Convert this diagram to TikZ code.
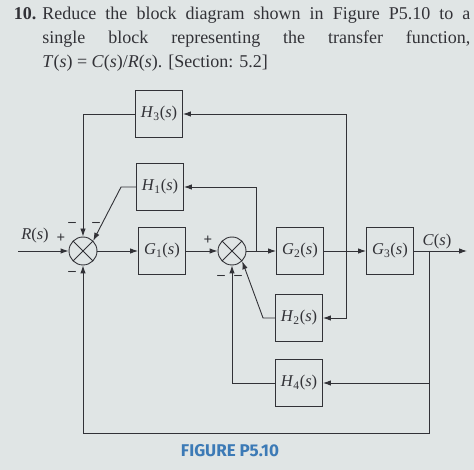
\documentclass[tikz,border=0pt]{standalone}
\usepackage{fontspec}
\setmainfont{Liberation Serif}
\newfontfamily\capfont{Fira Sans}
\usetikzlibrary{arrows.meta}

\definecolor{paper}{RGB}{224,229,229}
\definecolor{ink}{RGB}{50,50,55}
\definecolor{capblue}{RGB}{60,122,182}
\newcommand{\tfn}[2]{\textit{#1}\textsubscript{#2}(\textit{s})}
\newcommand{\sig}[1]{\textit{#1}(\textit{s})}

\begin{document}
\begin{tikzpicture}[x=1pt, y=-1pt, node distance=70pt, color=ink, line width=0.9pt,
  >={Latex[length=8pt,width=5.5pt]},
  block/.style={draw, minimum width=47pt, minimum height=47pt, inner sep=0pt, font=\fontsize{16.5}{16.5}\selectfont},
  sum/.style={circle, draw, minimum size=28pt, inner sep=0pt,
    path picture={\draw (path picture bounding box.south west) -- (path picture bounding box.north east)
      (path picture bounding box.north west) -- (path picture bounding box.south east);}},
  sign/.style={inner sep=0pt, font=\bfseries\fontsize{15}{15}\selectfont}]
\fill[paper] (0,0) rectangle (474,470);
\useasboundingbox (0,0) rectangle (474,470);

% problem text
\node[anchor=base west, font=\bfseries\fontsize{18}{24}\selectfont] (num) at (10,20) {10.};
\node[anchor=base west, text width=428pt, align=justify, inner sep=0pt, font=\fontsize{18}{24}\selectfont] (task) at (42,20)
  {Reduce the block diagram shown in Figure P5.10 to a\linebreak single block representing the transfer function,\linebreak
   \textit{T}(\textit{s}) = \textit{C}(\textit{s})/\textit{R}(\textit{s}). [Section: 5.2]};

% forward path
\node[sum] (sum1) at (83,251) {};
\node[block] (G1) [right of=sum1, xshift=9pt] {\tfn{G}{1}};
\node[sum] (sum2) [right of=G1] {};
\node[block] (G2) [right of=sum2, xshift=-2pt] {\tfn{G}{2}};
\node[block] (G3) [right of=G2, xshift=20pt] {\tfn{G}{3}};

% feedback blocks
\node[block] (H1) [above of=G1, node distance=64pt, xshift=-2pt] {\tfn{H}{1}};
\node[block] (H3) [above of=H1, node distance=73pt, xshift=-1pt] {\tfn{H}{3}};
\node[block] (H2) [below of=G2, node distance=67pt, xshift=-1pt] {\tfn{H}{2}};
\node[block] (H4) [below of=H2, node distance=65pt] {\tfn{H}{4}};

\coordinate (in) at (18,251);
\coordinate (pick1) at (256,251);
\coordinate (pick2) at (346,251);
\coordinate (pick3) at (429,251);
\coordinate (out) at (467,251);
\coordinate (corner) at (429,433);

\node (rlab) at (35,236) {\fontsize{16.5}{16.5}\selectfont\sig{R}};
\node (clab) at (437,242) {\fontsize{16.5}{16.5}\selectfont\sig{C}};

% signs
\node[sign] (s1a) at (61,238) {+};
\node[sign] (s1b) at (72,224) {–};
\node[sign] (s1c) at (96,224) {–};
\node[sign] (s1d) at (72,273) {–};
\node[sign] (s2a) at (208,240) {+};
\node[sign] (s2b) at (221,277) {–};
\node[sign] (s2c) at (238,277) {–};

\draw[->] (in) -- (sum1);
\draw[->] (sum1) -- (G1);
\draw[->] (G1) -- (sum2);
\draw[->] (sum2) -- (G2);
\draw[->] (G2) -- (G3);
\draw[->] (G3) -- (out);

\draw[->] (pick1) |- (H1.east);
\draw[->] (H1.west) -- ++(-15,0) -- (sum1.north east);
\draw[->] (pick2) |- (H3.east);
\draw[->] (H3.west) -| (sum1.north);
\draw[->] (pick2) |- (H2.east);
\draw[->] (H2.west) -- ++(-12,0) -- (sum2.south east);
\draw[->] (pick3) |- (H4.east);
\draw[->] (H4.west) -| (sum2.south);
\draw[->] (pick3) -- (corner) -| (sum1.south);

\node[font=\capfont\bfseries\fontsize{17}{17}\selectfont, text=capblue] (cap) at (230,451) {FIGURE P5.10};
\end{tikzpicture}
\end{document}
